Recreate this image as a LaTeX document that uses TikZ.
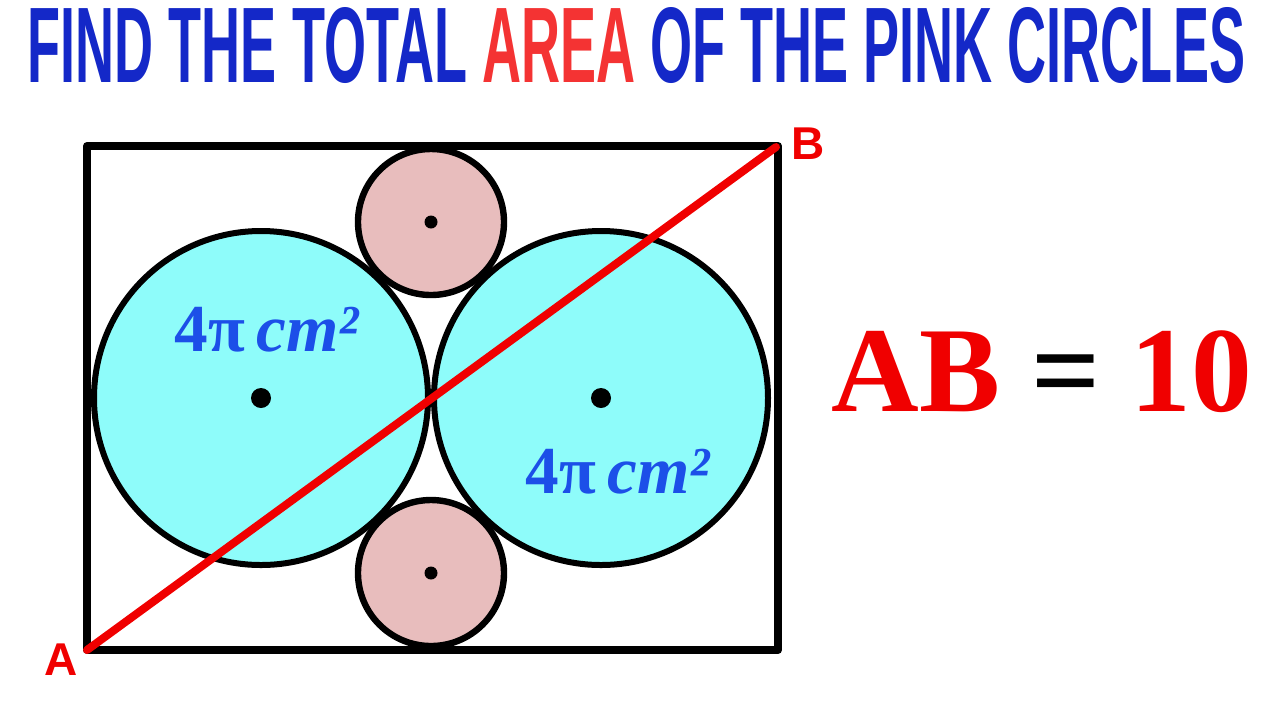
\documentclass[tikz,border=0pt]{standalone}
\usepackage{fontspec}
\setmainfont{Liberation Serif}
\newfontfamily\titlefont{Liberation Sans}
\definecolor{titleblue}{HTML}{1428C8}
\definecolor{titlered}{HTML}{F43333}
\definecolor{cyanfill}{HTML}{8EFCFA}
\definecolor{pinkfill}{HTML}{E8BDBD}
\definecolor{labelblue}{HTML}{1C4FE8}
\definecolor{abred}{HTML}{F00000}
\tikzset{
  bigcirc/.style={circle, draw=black, fill=cyanfill, line width=3pt, inner sep=0pt, minimum size=167pt},
  pinkcirc/.style={circle, draw=black, fill=pinkfill, line width=3.2pt, inner sep=0pt, minimum size=73pt},
  bigdot/.style={circle, fill=black, inner sep=0pt, minimum size=10pt},
  smalldot/.style={circle, fill=black, inner sep=0pt, minimum size=6.5pt},
  ptlabel/.style={text=abred, font=\titlefont\bfseries\fontsize{23pt}{23pt}\selectfont, inner sep=0pt}
}
\begin{document}
\begin{tikzpicture}[x=0.5pt,y=-0.5pt]
\useasboundingbox[fill=white] (0,0) rectangle (1280,720);
% title
\node[inner sep=0pt, anchor=center] (title) at (636.5,45.5)
  {\resizebox{608.5pt}{37.5pt}{\titlefont\bfseries\color{titleblue}FIND THE TOTAL \textcolor{titlered}{AREA} OF THE PINK CIRCLES}};
% rectangle
\coordinate (A) at (87,650);
\coordinate (B) at (776,147);
\draw[line width=4pt, line join=round] (87,146) rectangle (778,650);
% circles
\node[bigcirc] (L) at (261,398) {};
\node[bigcirc] (R) at (601,398) {};
\node[pinkcirc] (T) at (431,222) {};
\node[pinkcirc] (D) at (431,573) {};
\node[bigdot] (Lc) at (261,398) {};
\node[bigdot] (Rc) at (601,398) {};
\node[smalldot] (Tc) at (431,222) {};
\node[smalldot] (Dc) at (431,573) {};
% diagonal
\draw[abred, line width=4pt, line cap=round] (A) -- (B);
\node[ptlabel] (Alab) at (61,660) {A};
\node[ptlabel] (Blab) at (808,144) {B};
% area labels
\node[inner sep=0pt, anchor=center] (la) at (267.5,330) {\resizebox{92.5pt}{!}{\color{labelblue}\bfseries 4π\,\textit{cm²}}};
\node[inner sep=0pt, anchor=center] (ra) at (618.5,472) {\resizebox{92.5pt}{!}{\color{labelblue}\bfseries 4π\,\textit{cm²}}};
% AB = 10
\node[inner sep=0pt, anchor=center] (eq) at (1042,372) {\resizebox{210pt}{!}{\bfseries\color{abred}AB \textcolor{black}{=} 10}};
\end{tikzpicture}
\end{document}
